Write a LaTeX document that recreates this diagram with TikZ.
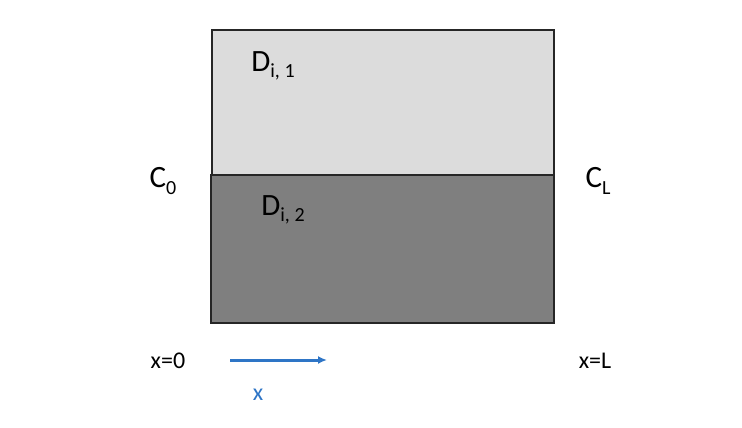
\documentclass[tikz,border=0pt]{standalone}
\usepackage{fontspec}
\usetikzlibrary{arrows.meta}
\setmainfont{Carlito}
\definecolor{lightfill}{HTML}{DCDCDC}
\definecolor{darkfill}{HTML}{7F7F7F}
\definecolor{arrowblue}{HTML}{2E75C6}
\newcommand{\sbs}[1]{\raisebox{-0.45ex}{\fontsize{20}{20}\selectfont #1}}
\begin{document}
\begin{tikzpicture}[x=1pt,y=-1pt,
  layer/.style={draw=black!85,line width=1.3pt},
  biglabel/.style={inner sep=0pt,anchor=center,font=\fontsize{31}{31}\selectfont},
  smalllabel/.style={inner sep=0pt,anchor=center,font=\fontsize{24}{24}\selectfont}]
\useasboundingbox (0,0) rectangle (742,428);
\fill[white] (0,0) rectangle (742,428);
\draw[layer,fill=lightfill] (212,30) rectangle (554,175);
\draw[layer,fill=darkfill] (211,175) rectangle (554,323);
\node[biglabel] (d1) at (273,66) {D\sbs{i, 1}};
\node[biglabel] (d2) at (283,210) {D\sbs{i, 2}};
\node[biglabel] (c0) at (163,181) {C\sbs{0}};
\node[biglabel] (cl) at (598,181) {C\sbs{L}};
\node[smalllabel] (x0) at (168,361) {x=0};
\node[smalllabel] (xl) at (595,361) {x=L};
\coordinate (as) at (230,360);
\coordinate (ae) at (327,360);
\draw[arrowblue,line width=3pt,-{Latex[length=9pt,width=8pt]}] (as) -- (ae);
\node[smalllabel,text=arrowblue] (xx) at (258,395) {x};
\end{tikzpicture}
\end{document}
